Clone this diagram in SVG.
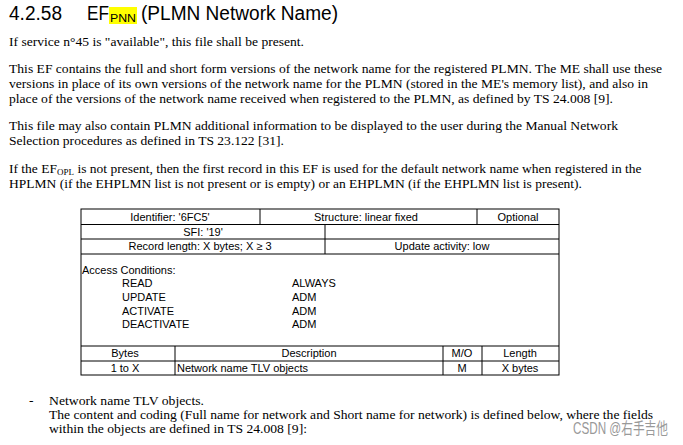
<svg xmlns="http://www.w3.org/2000/svg" width="683" height="445" viewBox="0 0 683 445">
<style>
.b{font-family:"Liberation Serif",serif;font-size:13.5px;fill:#000}
.t{font-family:"Liberation Sans",sans-serif;font-size:11px;fill:#000}
.h{font-family:"Liberation Sans",sans-serif;font-size:20px;fill:#000}
.l{stroke:#000;stroke-width:1;fill:none}
</style>
<rect width="683" height="445" fill="#fff"/>
<g id="heading">
<rect x="109" y="7" width="28" height="17" fill="#ffff00"/>
<text class="h" x="9" y="20" textLength="53" lengthAdjust="spacingAndGlyphs">4.2.58</text>
<text class="h" x="87" y="20" textLength="22" lengthAdjust="spacingAndGlyphs">EF</text>
<text x="110" y="22" font-family="Liberation Sans,sans-serif" font-size="11.5" textLength="26" lengthAdjust="spacingAndGlyphs">PNN</text>
<text class="h" x="141" y="20" textLength="197" lengthAdjust="spacingAndGlyphs">(PLMN Network Name)</text>
</g>
<g id="body">
<text class="b" x="9" y="46" textLength="295" lengthAdjust="spacingAndGlyphs">If service n°45 is "available", this file shall be present.</text>
<text class="b" x="9" y="73" textLength="653" lengthAdjust="spacingAndGlyphs">This EF contains the full and short form versions of the network name for the registered PLMN. The ME shall use these</text>
<text class="b" x="9" y="88" textLength="639" lengthAdjust="spacingAndGlyphs">versions in place of its own versions of the network name for the PLMN (stored in the ME's memory list), and also in</text>
<text class="b" x="9" y="103" textLength="604" lengthAdjust="spacingAndGlyphs">place of the versions of the network name received when registered to the PLMN, as defined by TS 24.008 [9].</text>
<text class="b" x="9" y="130" textLength="609" lengthAdjust="spacingAndGlyphs">This file may also contain PLMN additional information to be displayed to the user during the Manual Network</text>
<text class="b" x="9" y="145" textLength="275" lengthAdjust="spacingAndGlyphs">Selection procedures as defined in TS 23.122 [31].</text>
<text class="b" x="9" y="173">If the EF<tspan font-size="9" dy="2">OPL</tspan><tspan dy="-2"> is not present, then the first record in this EF is used for the default network name when registered in the</tspan></text>
<text class="b" x="9" y="188" textLength="573" lengthAdjust="spacingAndGlyphs">HPLMN (if the EHPLMN list is not present or is empty) or an EHPLMN (if the EHPLMN list is present).</text>
</g>
<g id="table">
<rect class="l" x="81" y="209" width="478" height="166"/>
<line class="l" x1="81" y1="224.5" x2="559" y2="224.5"/>
<line class="l" x1="81" y1="239" x2="559" y2="239"/>
<line class="l" x1="81" y1="254" x2="559" y2="254"/>
<line class="l" x1="81" y1="346" x2="559" y2="346"/>
<line class="l" x1="81" y1="361" x2="559" y2="361"/>
<line class="l" x1="260" y1="209" x2="260" y2="224.5"/>
<line class="l" x1="477" y1="209" x2="477" y2="224.5"/>
<line class="l" x1="325" y1="224.5" x2="325" y2="254"/>
<line class="l" x1="175" y1="346" x2="175" y2="375"/>
<line class="l" x1="443" y1="346" x2="443" y2="375"/>
<line class="l" x1="482" y1="346" x2="482" y2="375"/>
<g class="t" text-anchor="middle">
<text x="170" y="221">Identifier: '6FC5'</text>
<text x="366" y="221">Structure: linear fixed</text>
<text x="518" y="221">Optional</text>
<text x="203" y="236">SFI: '19'</text>
<text x="200" y="250">Record length: X bytes; X ≥ 3</text>
<text x="442" y="250">Update activity: low</text>
<text x="125" y="357">Bytes</text>
<text x="309" y="357">Description</text>
<text x="462" y="357">M/O</text>
<text x="520" y="357">Length</text>
<text x="125" y="372">1 to X</text>
<text x="462" y="372">M</text>
<text x="520" y="372">X bytes</text>
</g>
<g class="t">
<text x="82" y="274">Access Conditions:</text>
<text x="122" y="287">READ</text><text x="292" y="287">ALWAYS</text>
<text x="122" y="301">UPDATE</text><text x="292" y="301">ADM</text>
<text x="122" y="315">ACTIVATE</text><text x="292" y="315">ADM</text>
<text x="122" y="328">DEACTIVATE</text><text x="292" y="328">ADM</text>
<text x="177" y="372">Network name TLV objects</text>
</g>
</g>
<g id="footer">
<text class="b" x="29" y="405">-</text>
<text class="b" x="49" y="405" textLength="155" lengthAdjust="spacingAndGlyphs">Network name TLV objects.</text>
<text class="b" x="49" y="419" textLength="604" lengthAdjust="spacingAndGlyphs">The content and coding (Full name for network and Short name for network) is defined below, where the fields</text>
<text class="b" x="49" y="433" textLength="258" lengthAdjust="spacingAndGlyphs">within the objects are defined in TS 24.008 [9]:</text>
<text x="573" y="434" font-family="Liberation Sans,'Noto Sans CJK SC',sans-serif" font-size="16" fill="#999" textLength="95" lengthAdjust="spacingAndGlyphs">CSDN @右手吉他</text>
</g>
</svg>
